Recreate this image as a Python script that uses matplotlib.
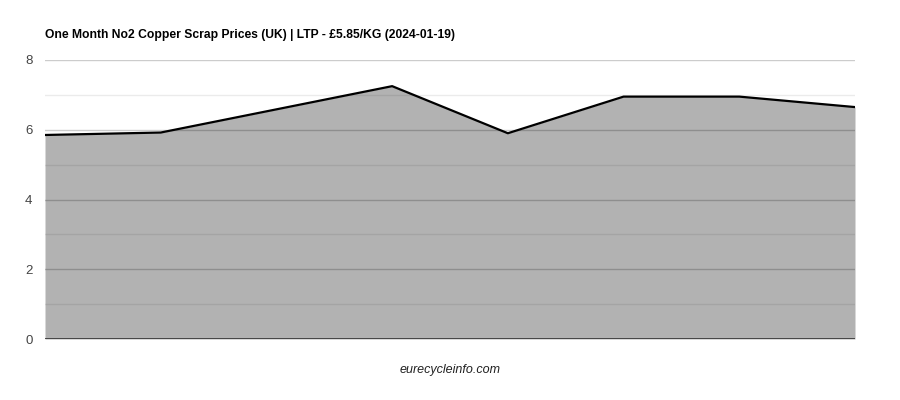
import numpy as np
import matplotlib.pyplot as plt

plt.rcParams['font.family'] = ['Liberation Sans', 'DejaVu Sans']

TITLE = "One Month No2 Copper Scrap Prices (UK) | LTP - £5.85/KG (2024-01-19)"
SOURCE = "eurecycleinfo.com"

# trading-day position along the month (one day has no quote)
days = [0, 1, 3, 4, 5, 6, 7]
prices = [5.85, 5.92, 7.25, 5.9, 6.95, 6.95, 6.65]

fig = plt.figure(figsize=(9, 4), dpi=100)
ax = fig.add_axes([0.05, 0.1525, 0.90, 0.6975])

ax.set_ylim(0, 8)
ax.set_xlim(days[0], days[-1])

# gridlines first, the translucent area goes over them
for v in [1, 3, 5, 7]:
    ax.axhline(v, color="#ebebeb", lw=1, zorder=1)
for v in [2, 4, 6, 8]:
    ax.axhline(v, color="#cccccc", lw=1, zorder=1)

ax.fill_between(days, prices, 0, color="black", alpha=0.3, lw=0, zorder=2)
ax.plot(days, prices, color="black", lw=1.6, zorder=3)
ax.axhline(0, color="#333333", lw=1.2, zorder=4)

ax.set_yticks([0, 2, 4, 6, 8])
ax.set_yticklabels(["0", "2", "4", "6", "8"], fontsize=9.5, color="#444444")
ax.tick_params(axis="y", length=0, pad=9)
ax.set_xticks([])
for s in ax.spines.values():
    s.set_visible(False)

fig.text(45 / 900, 1 - 35 / 400, TITLE, fontsize=8.7, fontweight="bold",
         ha="left", va="center", color="black")
fig.text(0.5, 1 - 370 / 400, SOURCE, fontsize=9, style="italic",
         ha="center", va="center", color="#222222")

fig.savefig("out.png", dpi=100)
